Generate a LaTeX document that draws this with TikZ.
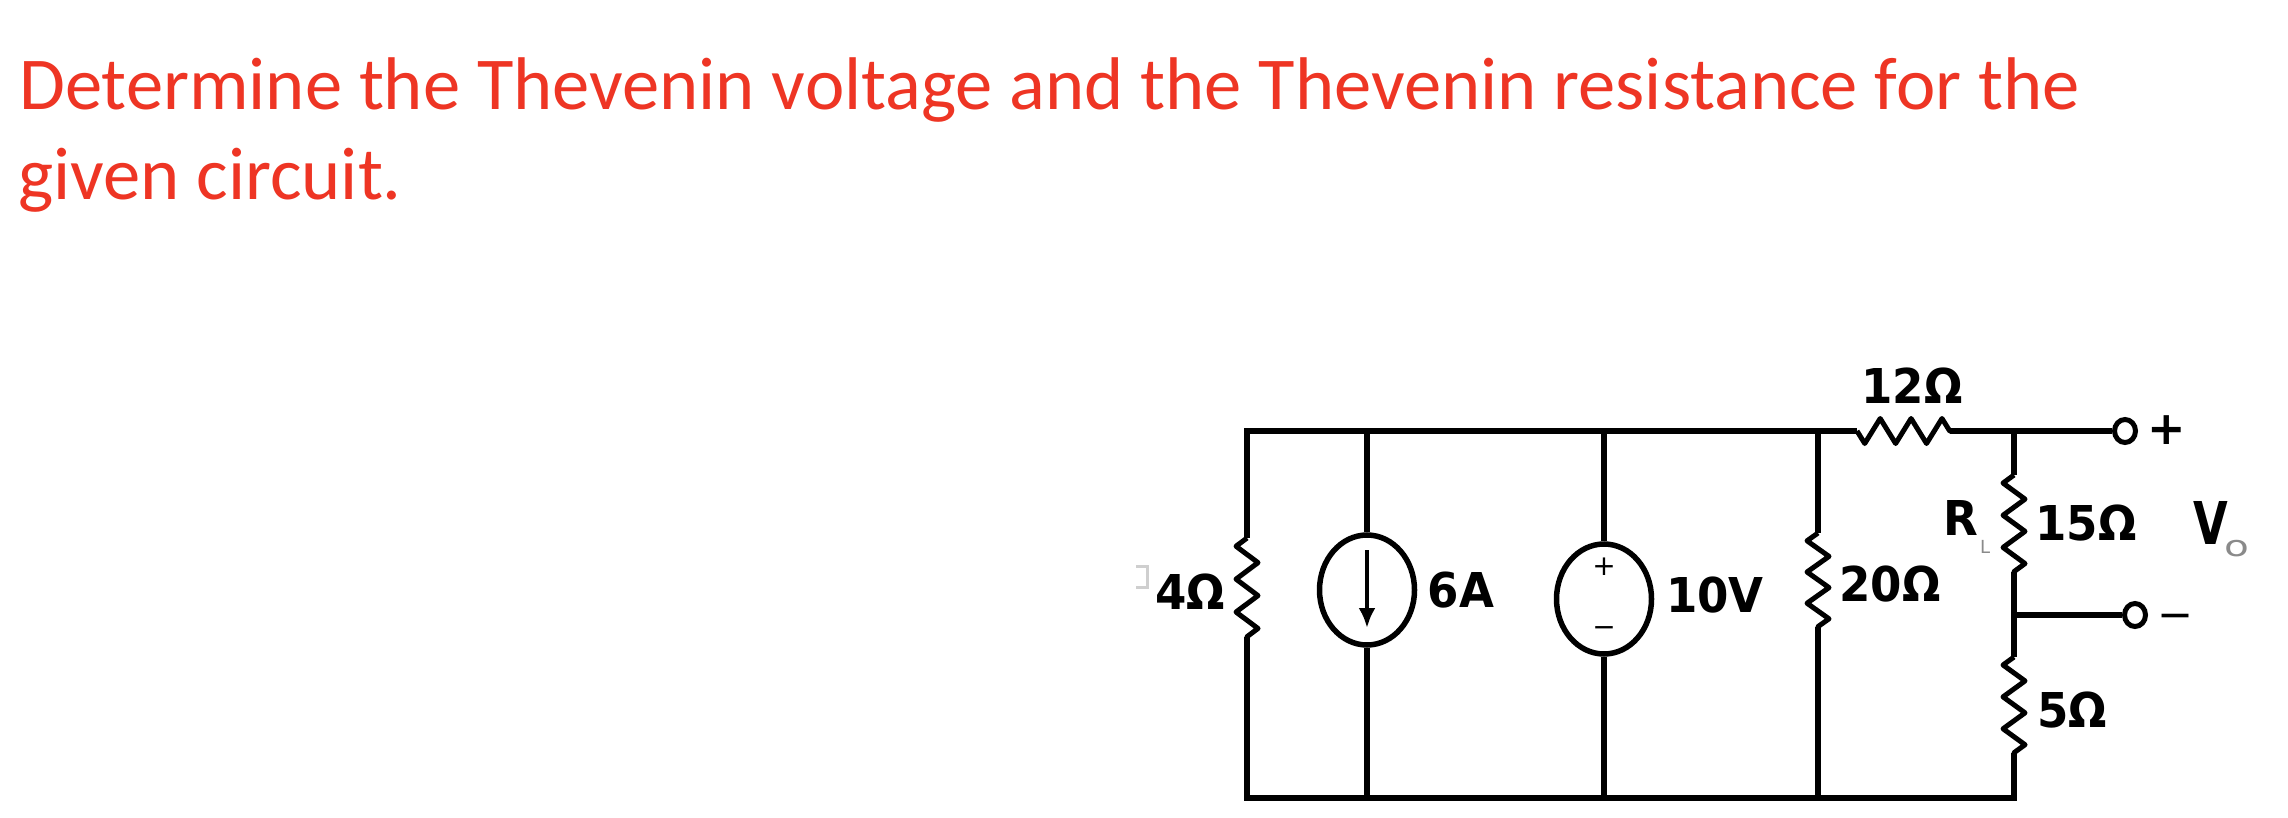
\documentclass[tikz,border=0pt]{standalone}
\usepackage{fontspec}
\usetikzlibrary{shapes.geometric,decorations.pathmorphing,arrows.meta}
\setmainfont{Carlito}
\newfontfamily\labfont[FakeStretch=0.94]{DejaVu Sans}
\newfontfamily\vfont[FakeStretch=0.76]{DejaVu Sans}
\newfontfamily\signfont{DejaVu Sans}
\newfontfamily\subofont[FakeStretch=1.4]{DejaVu Sans}
\definecolor{titlered}{HTML}{EE3524}
\definecolor{subgray}{HTML}{8A8A8A}
\definecolor{ghost}{HTML}{CFCFCF}
\tikzset{
  wire/.style={line width=5.5pt,line join=miter,black},
  zig/.style={line width=5pt,line join=round,black},
  res/.style={decoration={zigzag,segment length=#1,amplitude=-11pt}},
  hres/.style={decoration={zigzag,segment length=#1,amplitude=-12.5pt}},
  srcshape/.style={draw,ellipse,line width=5.5pt,fill=white,inner sep=0pt,minimum width=95pt,minimum height=110pt},
  term/.style={draw,ellipse,line width=5pt,fill=white,inner sep=0pt,minimum width=21pt,minimum height=23pt},
  val/.style={inner sep=0pt,anchor=base,font={\labfont\bfseries\fontsize{48}{48}\selectfont}},
  titletext/.style={inner sep=0pt,anchor=base west,text=titlered,font={\fontsize{74.6}{74.6}\selectfont}},
  sign/.style={inner sep=0pt,anchor=center}
}
\begin{document}
\begin{tikzpicture}[x=1pt,y=-1pt]
\useasboundingbox (0,0) rectangle (2288,818);
\fill[white] (0,0) rectangle (2288,818);
\node[titletext] (t1) at (19,110) {Determine the Thevenin voltage and the Thevenin resistance for the};
\node[titletext] (t2) at (18,200) {given circuit.};
% frame points
\coordinate (TL) at (1247,431); \coordinate (BL) at (1247,798);
\coordinate (T2) at (1367,431); \coordinate (B2) at (1367,798);
\coordinate (T3) at (1604,431); \coordinate (B3) at (1604,798);
\coordinate (T4) at (1818,431); \coordinate (B4) at (1818,798);
\coordinate (T5) at (2014,431); \coordinate (B5) at (2014,798);
\coordinate (M5) at (2014,615);
\coordinate (r4a) at (1247,538); \coordinate (r4b) at (1247,637);
\coordinate (r20a) at (1818,533); \coordinate (r20b) at (1818,627);
\coordinate (r12a) at (1857,431); \coordinate (r12b) at (1950,431);
\coordinate (r15a) at (2014,475); \coordinate (r15b) at (2014,572);
\coordinate (r5a) at (2014,657); \coordinate (r5b) at (2014,753);
\node[srcshape] (cs) at (1367,590) {};
\node[srcshape] (vs) at (1604,599) {};
\node[term] (tp) at (2125,431) {};
\node[term] (tm) at (2135,615) {};
% rails with square corners
\draw[wire] (r4a) -- (TL) -- (T2) -- (T3) -- (T4) -- (r12a);
\draw[wire] (r12b) -- (T5) -- (tp.west);
\draw[wire] (r4b) -- (BL) -- (B2) -- (B3) -- (B4) -- (B5) -- (r5b);
% branches
\draw[wire] (T2) -- (cs.north);
\draw[wire] (cs.south) -- (B2);
\draw[wire] (T3) -- (vs.north);
\draw[wire] (vs.south) -- (B3);
\draw[wire] (T4) -- (r20a);
\draw[wire] (r20b) -- (B4);
\draw[wire] (T5) -- (r15a);
\draw[wire] (r15b) -- (r5a);
\draw[wire] (M5) -- (tm.west);
% resistors
\draw[zig] (r12a) decorate[hres=30.9pt]{-- (r12b)};
\draw[zig] (r4a) decorate[res=32.9pt]{-- (r4b)};
\draw[zig] (r20a) decorate[res=31.2pt]{-- (r20b)};
\draw[zig] (r15a) decorate[res=32.2pt]{-- (r15b)};
\draw[zig] (r5a) decorate[res=31.9pt]{-- (r5b)};
% source arrow
\coordinate (aa) at (1367,550); \coordinate (ab) at (1367,628);
\draw[line width=4.5pt,-{Latex[length=20pt,width=17pt]}] (aa) -- (ab);
% labels
\node[val] (l4) at (1190,609) {4Ω};
\node[val] (l6a) at (1461,607) {6A};
\node[val] (l10) at (1715,612) {10V};
\node[val] (l20) at (1890,601) {20Ω};
\node[val] (l12) at (1912,403) {12Ω};
\node[val] (l15) at (2086,540) {15Ω};
\node[val] (l5) at (2072,727) {5Ω};
\node[val] (lR) at (1961,535) {R};
\node[inner sep=0pt,anchor=base,font={\vfont\bfseries\fontsize{59}{59}\selectfont}] (lV) at (2211,544) {V};
\node[inner sep=0pt,anchor=base,text=subgray,font={\signfont\fontsize{18}{18}\selectfont}] (lLs) at (1985,553) {L};
\node[inner sep=0pt,anchor=base,text=subgray,font={\subofont\fontsize{29}{29}\selectfont}] (lOs) at (2237,556) {o};
\node[sign,font={\signfont\fontsize{28}{28}\selectfont}] (vp) at (1604,567) {+};
\node[sign,font={\signfont\fontsize{28}{28}\selectfont}] (vm) at (1604,632) {−};
\node[sign,font={\signfont\bfseries\fontsize{46}{46}\selectfont}] (pp) at (2167,430) {+};
\node[sign,font={\signfont\fontsize{43}{43}\selectfont}] (pm) at (2175,622) {−};
% faint scan remnant
\draw[ghost,line width=3pt] (1136,566) -- (1147,566) -- (1147,587) -- (1136,587);
\end{tikzpicture}
\end{document}
